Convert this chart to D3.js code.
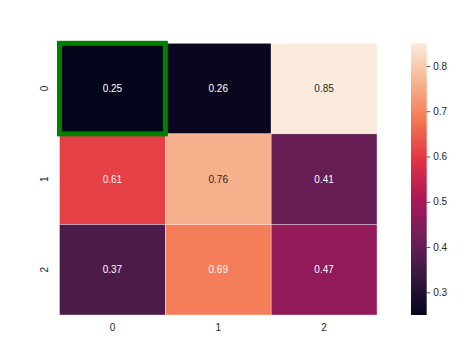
<!DOCTYPE html>
<html><head><meta charset="utf-8">
<script src="https://cdn.jsdelivr.net/npm/d3@7"></script>
<style>body{margin:0;background:#fff}svg{display:block}text{font-family:"Liberation Sans",Arial,sans-serif}</style>
</head><body>
<svg id="c" width="474" height="355"></svg>
<script>
const rowLabels = ["0","1","2"];
const colLabels = ["0","1","2"];
const values = [
  [0.25, 0.26, 0.85],
  [0.61, 0.76, 0.41],
  [0.37, 0.69, 0.47]
];
const cbarTicks = [0.3, 0.4, 0.5, 0.6, 0.7, 0.8];
const highlight = [0, 0];
const rocketStops = ["#03051a","#35193e","#701f57","#ad1759","#e13342","#f37651","#f6b48f","#faebdd"];

const svg = d3.select("#c");
const L = 59.5, R = 377, T = 43.3, B = 315;
const x = d3.scaleBand().domain(colLabels).range([L, R]);
const y = d3.scaleBand().domain(rowLabels).range([T, B]);
const flat = values.flat();
const vmin = d3.min(flat), vmax = d3.max(flat);
const rocket = d3.scaleLinear().domain(rocketStops.map((_, i) => i / (rocketStops.length - 1))).range(rocketStops).interpolate(d3.interpolateRgb);
const color = v => rocket((v - vmin) / (vmax - vmin));

const cells = [];
values.forEach((row, i) => row.forEach((v, j) => cells.push({r: rowLabels[i], c: colLabels[j], v})));

svg.append("g").selectAll("rect").data(cells).join("rect")
  .attr("x", d => x(d.c)).attr("y", d => y(d.r))
  .attr("width", x.bandwidth()).attr("height", y.bandwidth())
  .attr("fill", d => color(d.v))
  .attr("stroke", "#ffffff").attr("stroke-opacity", 0.6).attr("stroke-width", 0.6);

function lum(c) {
  const rgb = d3.rgb(c);
  const f = u => { u /= 255; return u <= 0.03928 ? u / 12.92 : Math.pow((u + 0.055) / 1.055, 2.4); };
  return 0.2126 * f(rgb.r) + 0.7152 * f(rgb.g) + 0.0722 * f(rgb.b);
}
svg.append("g").selectAll("text").data(cells).join("text")
  .attr("x", d => x(d.c) + x.bandwidth() / 2).attr("y", d => y(d.r) + y.bandwidth() / 2)
  .attr("text-anchor", "middle").attr("dominant-baseline", "central")
  .attr("font-size", 10)
  .attr("fill", d => lum(color(d.v)) > 0.408 ? "#262626" : "#ffffff")
  .text(d => d.v.toFixed(2));

// highlight rectangle
svg.append("rect")
  .attr("x", x(colLabels[highlight[1]])).attr("y", y(rowLabels[highlight[0]]))
  .attr("width", x.bandwidth()).attr("height", y.bandwidth())
  .attr("fill", "none").attr("stroke", "#008000").attr("stroke-width", 5);

// axes labels
svg.append("g").selectAll("text").data(colLabels).join("text")
  .attr("x", d => x(d) + x.bandwidth() / 2).attr("y", 331)
  .attr("text-anchor", "middle").attr("font-size", 10).attr("fill", "#262626").text(d => d);
svg.append("g").selectAll("text").data(rowLabels).join("text")
  .attr("transform", d => `translate(48,${y(d) + y.bandwidth() / 2}) rotate(-90)`)
  .attr("text-anchor", "middle").attr("font-size", 10).attr("fill", "#262626").text(d => d);

// colorbar
const cbL = 411, cbW = 15.7;
const cy = d3.scaleLinear().domain([vmin, vmax]).range([B, T]);
const defs = svg.append("defs");
const grad = defs.append("linearGradient").attr("id", "g").attr("x1", 0).attr("y1", 1).attr("x2", 0).attr("y2", 0);
rocketStops.forEach((c, i) => grad.append("stop").attr("offset", i / (rocketStops.length - 1)).attr("stop-color", c));
svg.append("rect").attr("x", cbL).attr("y", T).attr("width", cbW).attr("height", B - T).attr("fill", "url(#g)");
const ax = svg.append("g").attr("transform", `translate(${cbL + cbW},0)`)
  .call(d3.axisRight(cy).tickValues(cbarTicks).tickSize(3.5).tickPadding(3).tickFormat(d3.format(".1f")));
ax.select(".domain").remove();
ax.selectAll("line").attr("stroke", "#262626").attr("stroke-width", 0.8);
ax.selectAll("text").attr("font-size", 10).attr("fill", "#262626").attr("font-family", "Liberation Sans, Arial, sans-serif");
</script>
</body></html>
